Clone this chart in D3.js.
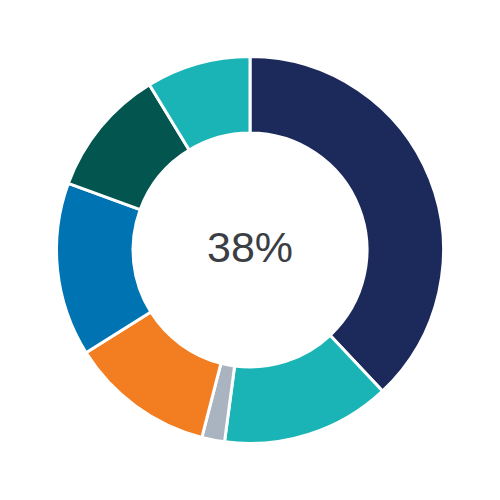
<!DOCTYPE html>
<html><head><meta charset="utf-8">
<script src="https://cdn.jsdelivr.net/npm/d3@7"></script>
<style>html,body{margin:0;padding:0;background:#fff;}</style>
</head><body>
<svg id="c" width="500" height="500"></svg>
<script>
const categories = ["A","B","C","D","E","F","G"];
const values = [38, 14.1, 1.9, 12.1, 14.5, 10.7, 8.7];
const colors = ["#1c2a5b","#1ab4b6","#aab4c0","#f37e21","#0074b3","#03564f","#1ab4b6"];
const centerLabel = "38%";

const svg = d3.select("#c");
const g = svg.append("g").attr("transform","translate(250,250)");
const pie = d3.pie().sort(null).value(d=>d.v);
const arc = d3.arc().innerRadius(117).outerRadius(193.5);
const data = categories.map((c,i)=>({c, v: values[i], col: colors[i]}));
g.selectAll("path").data(pie(data)).join("path")
  .attr("d", arc).attr("fill", d=>d.data.col)
  .attr("stroke","#fff").attr("stroke-width",3).attr("stroke-linejoin","miter");
g.append("text").attr("x",0).attr("y",12)
  .attr("text-anchor","middle")
  .attr("font-family","Liberation Sans, Arial, sans-serif")
  .attr("font-size",43).attr("fill","#3b3f45").text(centerLabel);
</script>
</body></html>
